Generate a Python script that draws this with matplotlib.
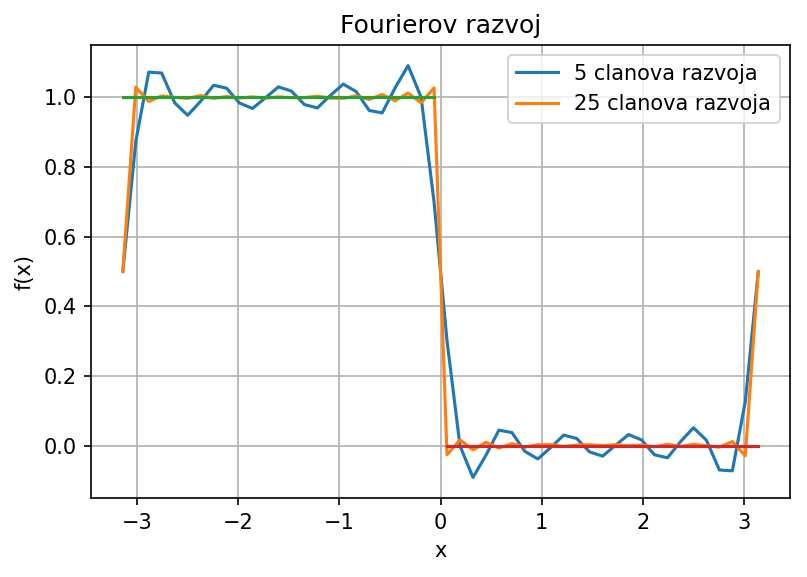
import numpy as np
import matplotlib
matplotlib.use("Agg")
import matplotlib.pyplot as plt

# sample grid, 50 points on [-pi, pi]
x = np.linspace(-np.pi, np.pi, 50)

# 5 clanova razvoja
s5 = [0.5, 0.873, 1.0722, 1.0696, 0.9841, 0.9484, 0.9886, 1.0346, 1.0262, 0.9834,
      0.9680, 0.9985, 1.0299, 1.0179, 0.9793, 0.9694, 1.0052, 1.0379, 1.0162, 0.9622,
      0.9553, 1.0274, 1.0910, 1.0004, 0.6995,
      0.3005, -0.0004, -0.0910, -0.0274, 0.0447, 0.0378, -0.0162, -0.0379, -0.0052, 0.0306,
      0.0207, -0.0179, -0.0299, 0.0015, 0.0320, 0.0166, -0.0262, -0.0346, 0.0114, 0.0516,
      0.0159, -0.0696, -0.0722, 0.1270, 0.5]

# 25 clanova razvoja
s25 = [0.5, 1.029, 0.988, 1.004, 1.000, 0.997, 1.005, 0.997, 1.002, 0.998,
       1.001, 0.998, 1.001, 0.999, 0.999, 1.003, 0.998, 0.997, 1.004, 0.994,
       1.008, 0.990, 1.012, 0.984, 1.027,
       -0.026, 0.017, -0.012, 0.010, -0.007, 0.006, -0.004, 0.003, 0.003, -0.002,
       0.002, 0.003, 0.000, 0.003, 0.000, 0.002, -0.003, 0.004, -0.002, 0.004,
       0.000, -0.004, 0.012, -0.029, 0.5]

# originalna funkcija
f_lijevo = [1.0] * 25
f_desno = [0.0] * 25

fig = plt.figure(figsize=(807 / 150, 577 / 150), dpi=150)
plt.subplots_adjust(left=0.1128, right=0.979, bottom=0.1369, top=0.922)

plt.plot(x, s5, label="5 clanova razvoja")
plt.plot(x, s25, label="25 clanova razvoja")
plt.plot(x[:25], f_lijevo, color="C2")
plt.plot(x[25:], f_desno, color="C3")

plt.title("Fourierov razvoj")
plt.xlabel("x")
plt.ylabel("f(x)")
plt.grid()
plt.legend(loc="upper right")

plt.savefig("out.png", dpi=150)
